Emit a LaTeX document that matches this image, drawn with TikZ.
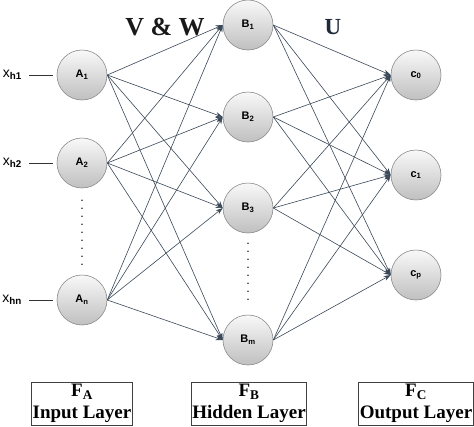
\documentclass[tikz,border=0pt]{standalone}
\usepackage{fontspec}
\setmainfont{Liberation Serif}
\setsansfont{Liberation Sans}
\usepackage{xcolor}
\usepackage{tikz}
\usetikzlibrary{arrows.meta, positioning}

\definecolor{wire}{HTML}{3A4858}
\definecolor{rim}{HTML}{8A8A8A}
\definecolor{ink}{HTML}{1E2A3A}

\begin{document}
\begin{tikzpicture}[
    x=1pt, y=-1pt,
    neuron/.style={circle, draw=rim, line width=0.6pt, minimum size=50pt, inner sep=0pt,
        top color=gray!5, bottom color=gray!50, font=\sffamily\bfseries\fontsize{11}{13}\selectfont},
    inlabel/.style={anchor=east, inner sep=3pt, font=\sffamily\fontsize{14}{16}\selectfont},
    conn/.style={-{Stealth[length=7pt, width=5pt]}, draw=wire, line width=0.6pt},
    inline/.style={draw=black!80, line width=0.7pt, shorten <=4pt, shorten >=4pt},
    vdots/.style={line width=1.8pt, line cap=round, dash pattern=on 0pt off 8pt, black!80},
    weight/.style={font=\bfseries\fontsize{26}{28}\selectfont},
    layer/.style={draw=black!75, line width=0.8pt, anchor=north, align=center, inner xsep=1pt, inner ysep=2pt,
        font=\bfseries\fontsize{19}{22}\selectfont}
]
    \useasboundingbox (0,0) rectangle (474,426);
    \clip (0,0) rectangle (474,426);

    % input layer
    \node[neuron] (A1) at (82,75) {A\textsubscript{1}};
    \node[neuron] (A2) at (82,163) {A\textsubscript{2}};
    \node[neuron] (An) at (82,300) {A\textsubscript{n}};

    % hidden layer
    \node[neuron] (B1) at (248,25) {B\textsubscript{1}};
    \node[neuron] (B2) at (248,117) {B\textsubscript{2}};
    \node[neuron] (B3) at (248,208) {B\textsubscript{3}};
    \node[neuron] (Bm) at (248,340) {B\textsubscript{m}};

    % output layer
    \node[neuron] (C0) at (416,75) {c\textsubscript{0}};
    \node[neuron] (C1) at (416,175) {c\textsubscript{1}};
    \node[neuron] (Cp) at (416,275) {c\textsubscript{p}};

    % inputs
    \node[inlabel] (xh1) at (25,75) {x\textsubscript{\bfseries h1}};
    \node[inlabel] (xh2) at (25,163) {x\textsubscript{\bfseries h2}};
    \node[inlabel] (xhn) at (25,300) {x\textsubscript{\bfseries hn}};
    \draw[inline] (xh1) -- (A1);
    \draw[inline] (xh2) -- (A2);
    \draw[inline] (xhn) -- (An);

    \draw[vdots] ([yshift=-12pt]A2.south) -- ([yshift=10pt]An.north);
    \draw[vdots] ([yshift=-10pt]B3.south) -- ([yshift=8pt]Bm.north);

    % weights
    \foreach \a in {A1,A2,An}
        \foreach \b in {B1,B2,B3,Bm}
            \draw[conn] (\a.east) -- (\b.west);
    \foreach \b in {B1,B2,B3,Bm}
        \foreach \c in {C0,C1,Cp}
            \draw[conn] (\b.east) -- (\c.west);

    \node[weight, text=black!90] (vw) at (165,27) {V \& W};
    \node[weight, text=ink, font=\bfseries\fontsize{23}{25}\selectfont] (u) at (333,27) {U};

    % layer names
    \node[layer] (FA) at (82,382) {F\textsubscript{A}\\Input Layer};
    \node[layer] (FB) at (249,382) {F\textsubscript{B}\\Hidden Layer};
    \node[layer] (FC) at (416,382) {F\textsubscript{C}\\Output Layer};
\end{tikzpicture}
\end{document}
